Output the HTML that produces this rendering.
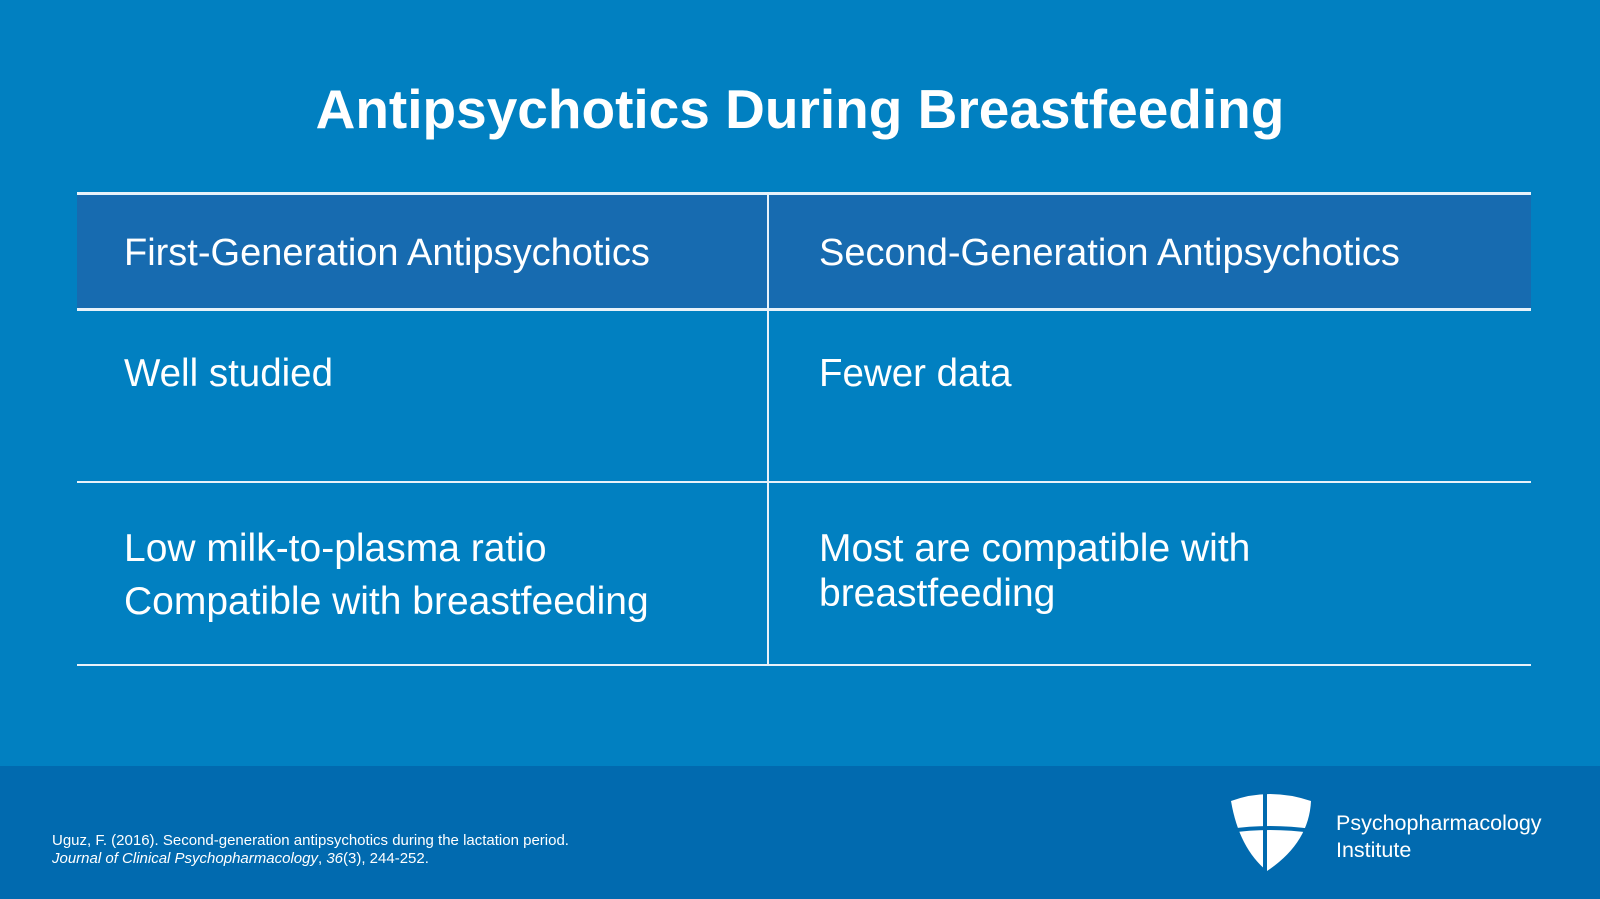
<!DOCTYPE html>
<html><head><meta charset="utf-8"><style>
body{margin:0;width:1600px;height:899px;background:#0180c1;position:relative;overflow:hidden;font-family:"Liberation Sans",sans-serif;color:#fff}
.a{position:absolute;white-space:nowrap}
.l{position:absolute;background:#e8f2fa}
</style></head><body>
<div class="a" style="left:0;width:1600px;top:77px;text-align:center;font-size:55px;font-weight:bold">Antipsychotics During Breastfeeding</div>
<div style="position:absolute;left:77px;top:194px;width:1454px;height:115px;background:#176bb0"></div>
<div class="l" style="left:77px;top:192px;width:1454px;height:3px"></div>
<div class="l" style="left:77px;top:308px;width:1454px;height:3px"></div>
<div class="l" style="left:77px;top:481px;width:1454px;height:2px"></div>
<div class="l" style="left:77px;top:664px;width:1454px;height:2px"></div>
<div class="l" style="left:767px;top:192px;width:2px;height:474px"></div>
<div class="a" style="left:124px;top:232px;font-size:38px">First-Generation Antipsychotics</div>
<div class="a" style="left:819px;top:232px;font-size:38px">Second-Generation Antipsychotics</div>
<div class="a" style="left:124px;top:352px;font-size:38.5px">Well studied</div>
<div class="a" style="left:819px;top:352px;font-size:38.5px">Fewer data</div>
<div class="a" style="left:124px;top:522px;font-size:39px;line-height:53px">Low milk-to-plasma ratio<br>Compatible with breastfeeding</div>
<div class="a" style="left:819px;top:526px;font-size:39px;line-height:45px">Most are compatible with<br>breastfeeding</div>
<div style="position:absolute;left:0;top:766px;width:1600px;height:133px;background:#016aaf"></div>
<div class="a" style="left:52px;top:832px;font-size:15px;line-height:18px">Uguz, F. (2016). Second-generation antipsychotics during the lactation period.<br><i>Journal of Clinical Psychopharmacology</i>, <i>36</i>(3), 244-252.</div>
<svg style="position:absolute;left:1229px;top:793px" width="84" height="80" viewBox="0 0 84 80">
<path d="M2 8 Q40 -6 82 8 Q80 50 38 78 Q10 55 2 8Z" fill="#fff"/>
<rect x="34" y="0" width="4" height="78" fill="#016aaf"/>
<path d="M0 36 Q40 30 84 36 L84 40 Q40 34 0 40Z" fill="#016aaf"/>
</svg>
<div class="a" style="left:1336px;top:810px;font-size:21.5px;line-height:27px">Psychopharmacology<br>Institute</div>
</body></html>
